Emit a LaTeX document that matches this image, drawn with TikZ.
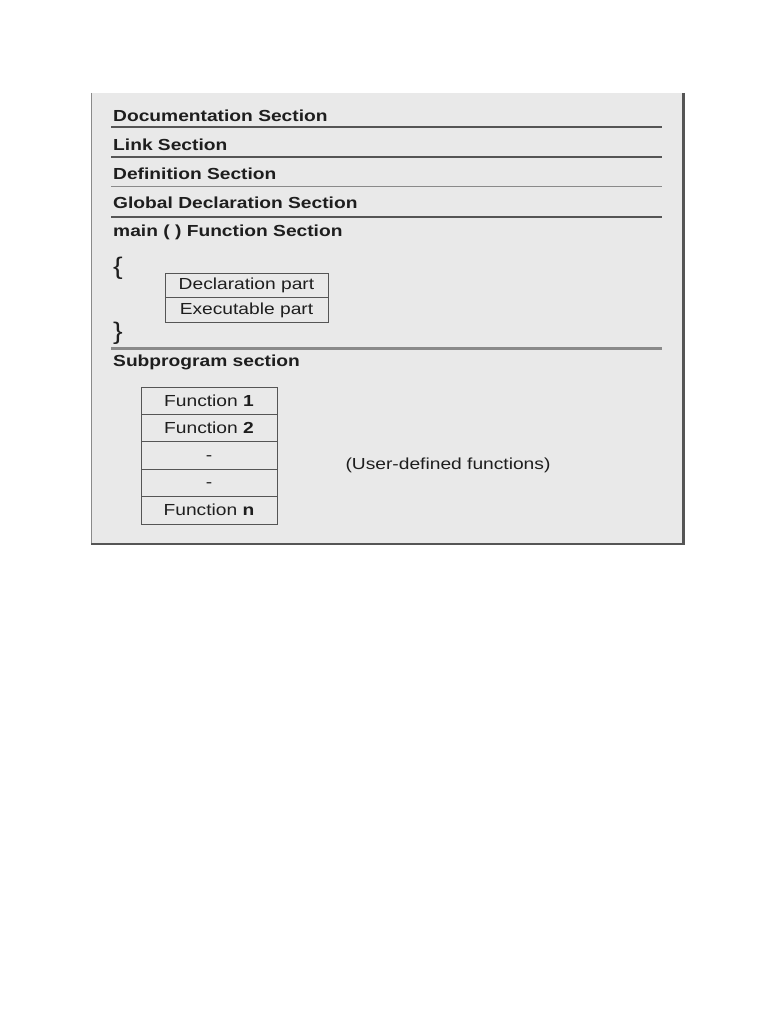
\documentclass[tikz,border=0pt]{standalone}
\usepackage{fontspec}
\setmainfont{Liberation Sans}[FakeStretch=1.2]
\definecolor{panel}{HTML}{E9E9E9}
\definecolor{rule}{HTML}{555555}
\definecolor{lightrule}{HTML}{8A8A8A}
\definecolor{ink}{HTML}{1E1E1E}
\begin{document}
\begin{tikzpicture}[x=1pt,y=-1pt,
  head/.style={anchor=west,inner sep=0pt,font=\fontsize{16}{18}\selectfont\bfseries,text=ink},
  plain/.style={inner sep=0pt,font=\fontsize{16}{18}\selectfont,text=ink},
  cell/.style={draw=rule,line width=1pt,fill=panel,minimum height=25pt,inner sep=0pt,font=\fontsize{16}{18}\selectfont,text=ink},
  sep/.style={draw=rule,line width=1.2pt},
  brace/.style={inner sep=0pt,font=\fontsize{24}{26}\selectfont,text=ink}]
\useasboundingbox (0,0) rectangle (768,1024);
\fill[white] (0,0) rectangle (768,1024);
% panel
\fill[panel] (91,93) rectangle (683,544);
\draw[lightrule,line width=1pt] (91,93) -- (91,544);
\draw[rule,line width=2pt] (91,544) -- (683,544);
\draw[rule,line width=3pt] (683,93) -- (683,545);
% headings
\node[head] (doc) at (113,116) {Documentation Section};
\node[head] (link) at (113,145) {Link Section};
\node[head] (def) at (113,174) {Definition Section};
\node[head] (glob) at (113,203) {Global Declaration Section};
\node[head] (main) at (113,232) {main ( ) Function Section};
\node[head] (sub) at (113,362) {Subprogram section};
% separators
\draw[sep] (111,127) -- (662,127);
\draw[sep] (111,157) -- (662,157);
\draw[draw=lightrule,line width=1pt] (111,187) -- (662,187);
\draw[sep] (111,217) -- (662,217);
\draw[draw=lightrule,line width=3pt] (111,348) -- (662,348);
% braces
\node[brace] (lb) at (118,268) {\{};
\node[brace] (rb) at (118,333) {\}};
% main body
\node[cell,minimum width=163pt] (decl) at (246.5,285.5) {Declaration part};
\node[cell,minimum width=163pt] (exec) at (246.5,310) {Executable part};
% functions
\node[cell,minimum width=136pt,minimum height=27pt] (f1) at (209,400.5) {Function \textbf{1}};
\node[cell,minimum width=136pt,minimum height=27pt] (f2) at (209,427.5) {Function \textbf{2}};
\node[cell,minimum width=136pt,minimum height=28pt] (d1) at (209,455) {};
\node[cell,minimum width=136pt,minimum height=27pt] (d2) at (209,482.5) {};
\node[cell,minimum width=136pt,minimum height=28pt] (fn) at (209,510) {Function \textbf{n}};
\node[plain,yshift=-3pt] (d1t) at (d1.center) {-};
\node[plain,yshift=-3pt] (d2t) at (d2.center) {-};
\node[plain] (udf) at (448,465) {(User-defined functions)};
\end{tikzpicture}
\end{document}
